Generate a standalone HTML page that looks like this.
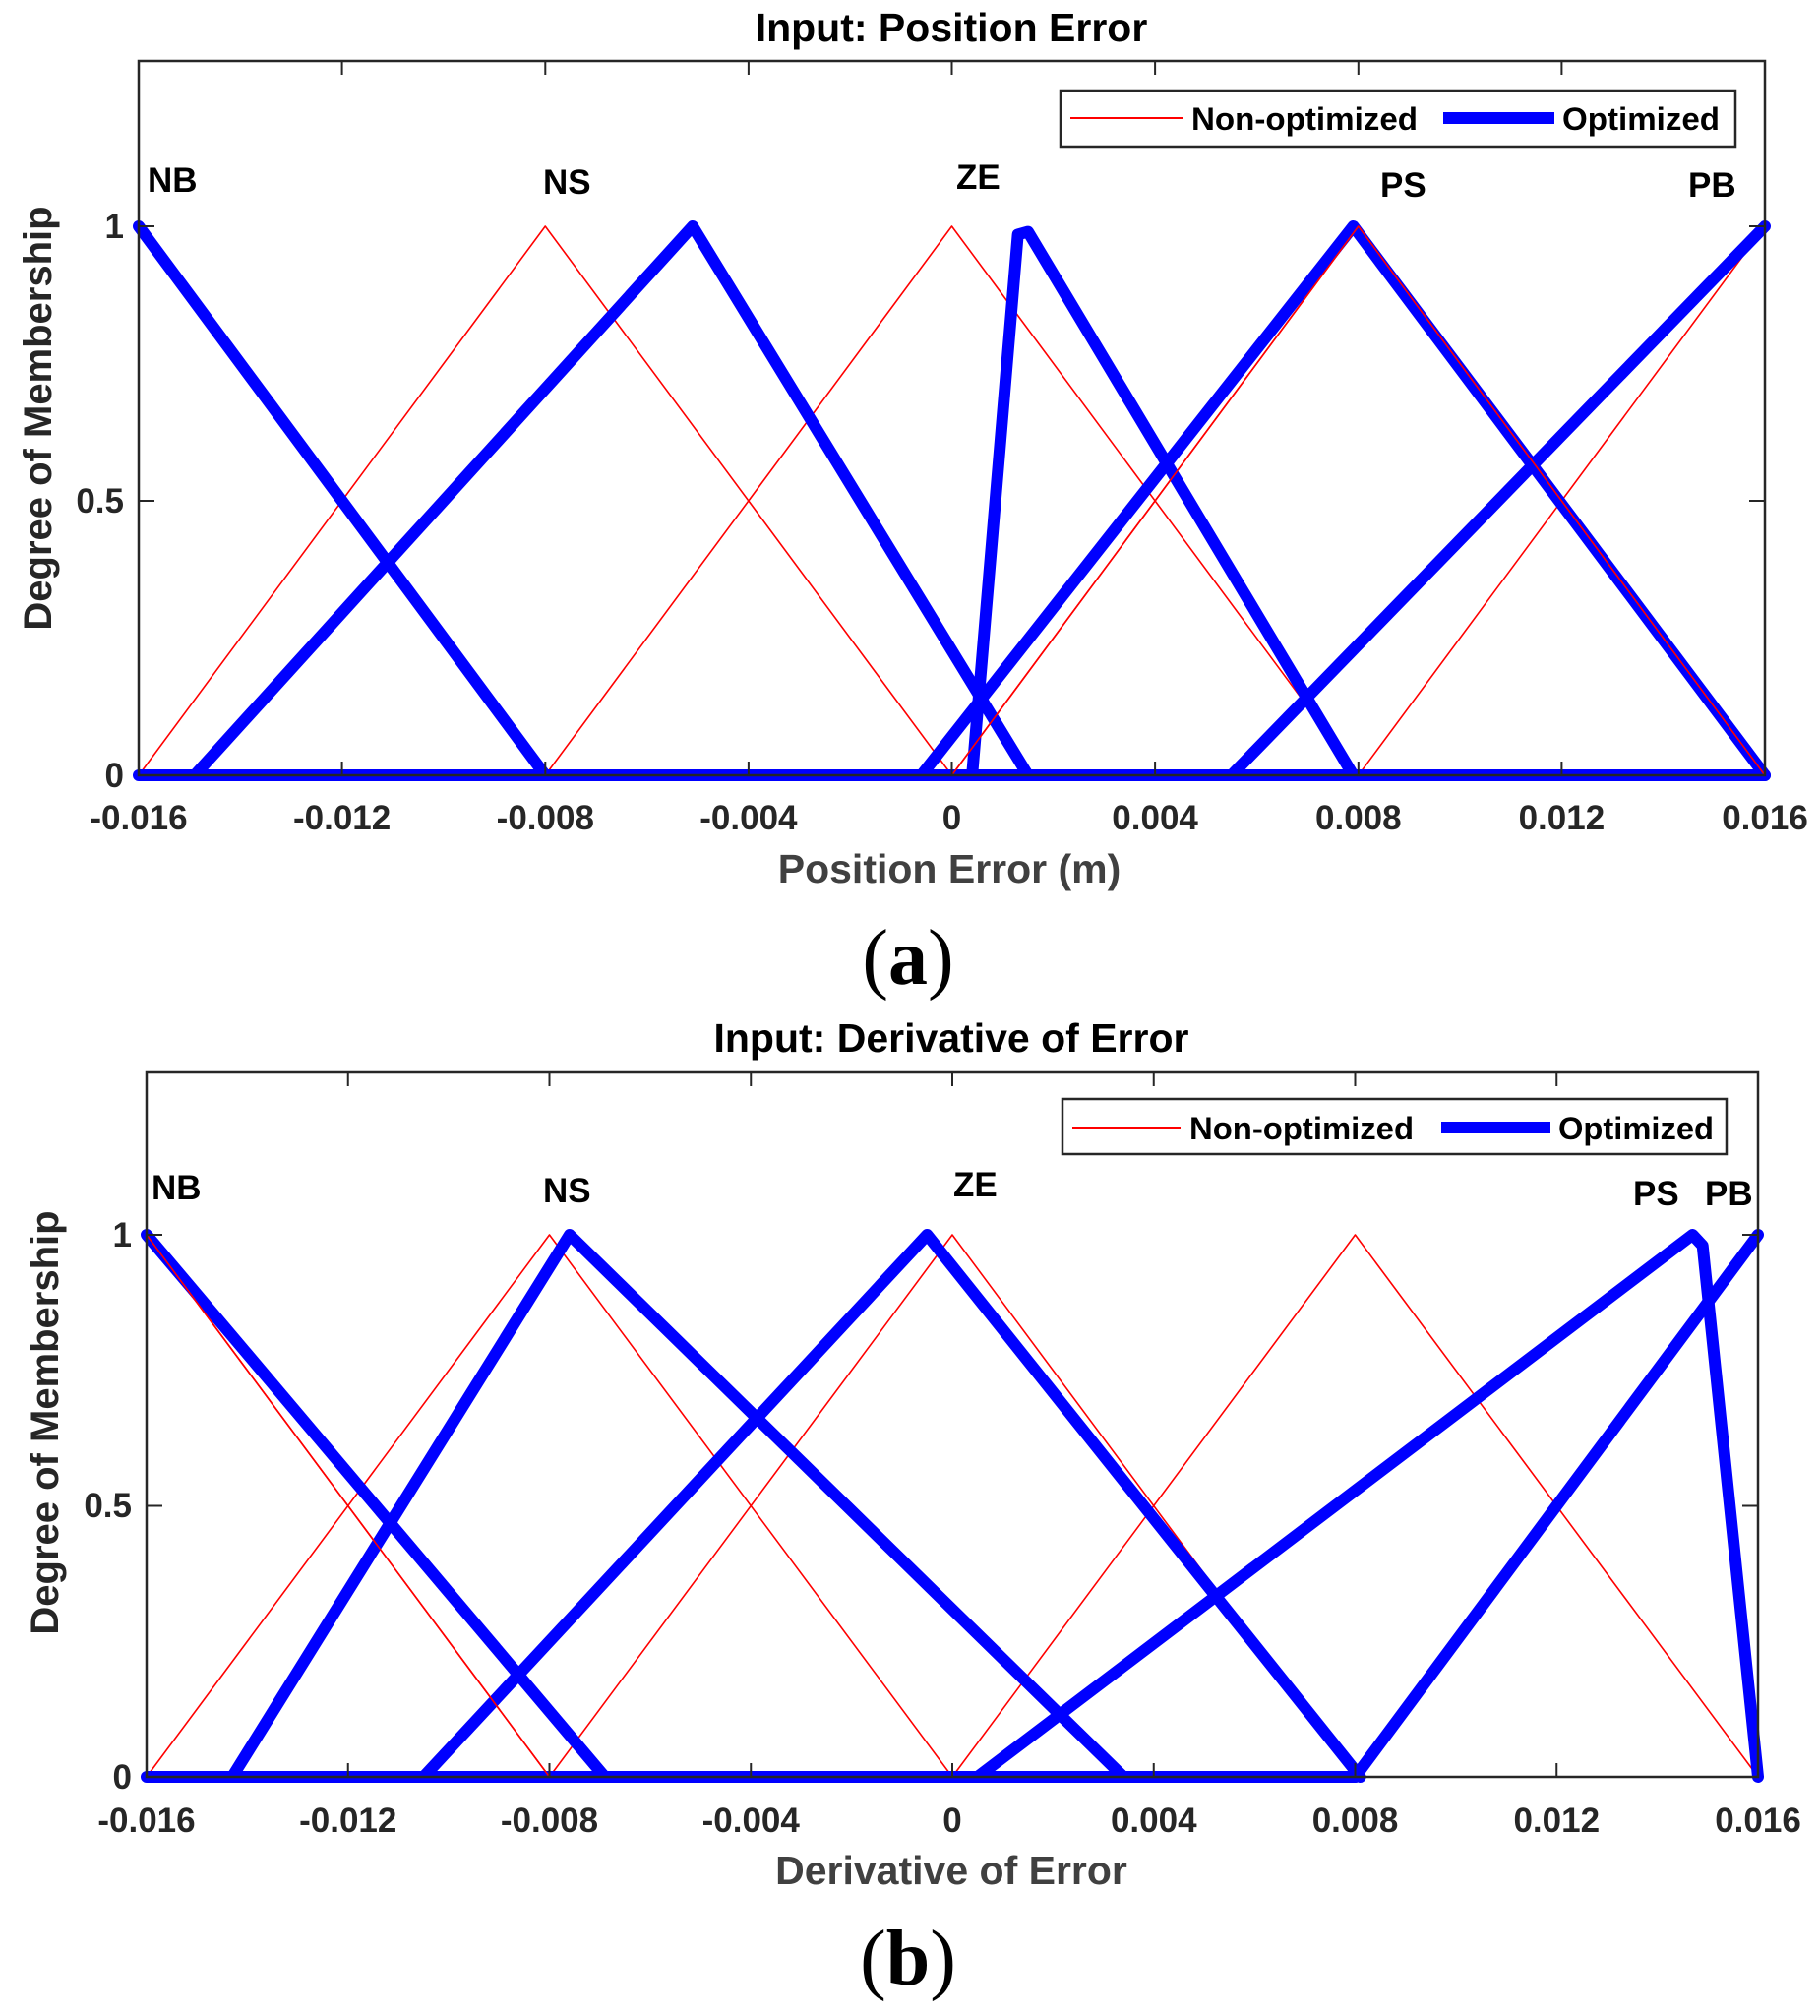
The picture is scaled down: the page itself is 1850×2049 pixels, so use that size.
<!DOCTYPE html>
<html><head><meta charset="utf-8"><style>
html,body{margin:0;padding:0;background:#fff;}
svg{display:block;}
text{font-family:"Liberation Sans",Arial,sans-serif;}
</style></head><body>
<svg width="1850" height="2049" viewBox="0 0 1850 2049" xmlns="http://www.w3.org/2000/svg">
<rect width="1850" height="2049" fill="#fff"/>

<!-- ===== Plot (a) ===== -->
<text x="967" y="42" font-size="41" font-weight="bold" text-anchor="middle" fill="#000">Input: Position Error</text>
<g transform="translate(141,788) scale(51656,-558)" fill="none" stroke-linejoin="round" stroke-linecap="round">
  <g stroke="#ff0000" stroke-width="1.6">
    <polyline vector-effect="non-scaling-stroke" points="0,1 0.008,0"/>
    <polyline vector-effect="non-scaling-stroke" points="0,0 0.008,1 0.016,0"/>
    <polyline vector-effect="non-scaling-stroke" points="0.008,0 0.016,1 0.024,0"/>
    <polyline vector-effect="non-scaling-stroke" points="0.016,0 0.024,1 0.032,0"/>
    <polyline vector-effect="non-scaling-stroke" points="0.024,0 0.032,1"/>
  </g>
  <g stroke="#0000ff" stroke-width="12">
    <polyline vector-effect="non-scaling-stroke" points="0,0 0.032,0"/>
    <polyline vector-effect="non-scaling-stroke" points="0,1 0.008,0"/>
    <polyline vector-effect="non-scaling-stroke" points="0.0011,0 0.0109,1 0.0175,0"/>
    <polyline vector-effect="non-scaling-stroke" points="0.0164,0 0.0173,0.985 0.0175,0.99 0.0239,0"/>
    <polyline vector-effect="non-scaling-stroke" points="0.0154,0 0.0239,1 0.032,0"/>
    <polyline vector-effect="non-scaling-stroke" points="0.0215,0 0.032,1"/>
  </g>
  <polyline vector-effect="non-scaling-stroke" stroke="#ff0000" stroke-width="2" points="0,0 0.032,0"/>
  <polyline vector-effect="non-scaling-stroke" stroke="#ff0000" stroke-width="1.6" points="0.016,0 0.024,1 0.032,0"/>
</g>
<rect x="141" y="62" width="1653" height="726" fill="none" stroke="#262626" stroke-width="2.5"/>
<g stroke="#262626" stroke-width="2">
  <path d="M347.6,788v-14M554.3,788v-14M760.9,788v-14M967.5,788v-14M1174.1,788v-14M1380.8,788v-14M1587.4,788v-14"/>
  <path d="M347.6,62v14M554.3,62v14M760.9,62v14M967.5,62v14M1174.1,62v14M1380.8,62v14M1587.4,62v14"/>
  <path d="M141,509h16M141,230h16M1794,509h-16M1794,230h-16"/>
</g>
<g font-size="35" font-weight="bold" fill="#262626" text-anchor="middle">
  <text x="141" y="843">-0.016</text><text x="347.6" y="843">-0.012</text><text x="554.3" y="843">-0.008</text>
  <text x="760.9" y="843">-0.004</text><text x="967.5" y="843">0</text><text x="1174.1" y="843">0.004</text>
  <text x="1380.8" y="843">0.008</text><text x="1587.4" y="843">0.012</text><text x="1794" y="843">0.016</text>
</g>
<g font-size="35" font-weight="bold" fill="#262626" text-anchor="end">
  <text x="126" y="800">0</text><text x="126" y="521">0.5</text><text x="126" y="242">1</text>
</g>
<text x="965" y="897" font-size="41" font-weight="bold" fill="#404040" text-anchor="middle">Position Error (m)</text>
<text transform="translate(52,425) rotate(-90)" font-size="40" font-weight="bold" fill="#262626" text-anchor="middle">Degree of Membership</text>
<g font-size="35" font-weight="bold" fill="#000">
  <text x="150" y="195">NB</text><text x="552" y="197">NS</text><text x="972" y="192">ZE</text>
  <text x="1403" y="200">PS</text><text x="1716" y="200">PB</text>
</g>
<rect x="1078" y="92" width="686" height="57" fill="#fff" stroke="#262626" stroke-width="2.5"/>
<line x1="1088" y1="120" x2="1202" y2="120" stroke="#ff0000" stroke-width="2"/>
<text x="1211" y="132" font-size="32" font-weight="bold" textLength="230" lengthAdjust="spacingAndGlyphs">Non-optimized</text>
<line x1="1467" y1="120" x2="1580" y2="120" stroke="#0000ff" stroke-width="12"/>
<text x="1588" y="132" font-size="32" font-weight="bold" textLength="160" lengthAdjust="spacingAndGlyphs">Optimized</text>
<text x="923" y="1000" font-size="80" text-anchor="middle" style="font-family:'Liberation Serif',serif">(<tspan font-weight="bold">a</tspan>)</text>

<!-- ===== Plot (b) ===== -->
<text x="967" y="1069" font-size="41" font-weight="bold" text-anchor="middle" fill="#000">Input: Derivative of Error</text>
<g transform="translate(149,1806) scale(51187.5,-551)" fill="none" stroke-linejoin="round" stroke-linecap="round">
  <g stroke="#ff0000" stroke-width="1.6">
    <polyline vector-effect="non-scaling-stroke" points="0,1 0.008,0"/>
    <polyline vector-effect="non-scaling-stroke" points="0,0 0.008,1 0.016,0"/>
    <polyline vector-effect="non-scaling-stroke" points="0.008,0 0.016,1 0.024,0"/>
    <polyline vector-effect="non-scaling-stroke" points="0.016,0 0.024,1 0.032,0"/>
  </g>
  <g stroke="#0000ff" stroke-width="12">
    <polyline vector-effect="non-scaling-stroke" points="0,0 0.024,0"/>
    <polyline vector-effect="non-scaling-stroke" points="0,1 0.0091,0"/>
    <polyline vector-effect="non-scaling-stroke" points="0.0017,0 0.0084,1 0.0194,0"/>
    <polyline vector-effect="non-scaling-stroke" points="0.0055,0 0.0155,1 0.0241,0"/>
    <polyline vector-effect="non-scaling-stroke" points="0.0165,0 0.0307,1 0.0309,0.98 0.032,0"/>
    <polyline vector-effect="non-scaling-stroke" points="0.024,0 0.032,1"/>
  </g>
  <polyline vector-effect="non-scaling-stroke" stroke="#ff0000" stroke-width="2" points="0.024,0 0.032,0"/>
  <polyline vector-effect="non-scaling-stroke" stroke="#ff0000" stroke-width="1.6" points="0,1 0.008,0"/>
</g>
<rect x="149" y="1090" width="1638" height="716" fill="none" stroke="#262626" stroke-width="2.5"/>
<g stroke="#262626" stroke-width="2">
  <path d="M353.75,1806v-14M558.5,1806v-14M763.25,1806v-14M968,1806v-14M1172.75,1806v-14M1377.5,1806v-14M1582.25,1806v-14"/>
  <path d="M353.75,1090v14M558.5,1090v14M763.25,1090v14M968,1090v14M1172.75,1090v14M1377.5,1090v14M1582.25,1090v14"/>
  <path d="M149,1530.5h16M149,1255h16M1787,1530.5h-16M1787,1255h-16"/>
</g>
<g font-size="35" font-weight="bold" fill="#262626" text-anchor="middle">
  <text x="149" y="1862">-0.016</text><text x="353.75" y="1862">-0.012</text><text x="558.5" y="1862">-0.008</text>
  <text x="763.25" y="1862">-0.004</text><text x="968" y="1862">0</text><text x="1172.75" y="1862">0.004</text>
  <text x="1377.5" y="1862">0.008</text><text x="1582.25" y="1862">0.012</text><text x="1787" y="1862">0.016</text>
</g>
<g font-size="35" font-weight="bold" fill="#262626" text-anchor="end">
  <text x="134" y="1818">0</text><text x="134" y="1542">0.5</text><text x="134" y="1267">1</text>
</g>
<text x="967" y="1915" font-size="41" font-weight="bold" fill="#404040" text-anchor="middle">Derivative of Error</text>
<text transform="translate(59,1446) rotate(-90)" font-size="40" font-weight="bold" fill="#262626" text-anchor="middle">Degree of Membership</text>
<g font-size="35" font-weight="bold" fill="#000">
  <text x="154" y="1219">NB</text><text x="552" y="1222">NS</text><text x="969" y="1216">ZE</text>
  <text x="1660" y="1225">PS</text><text x="1733" y="1225">PB</text>
</g>
<rect x="1080" y="1117" width="675" height="56" fill="#fff" stroke="#262626" stroke-width="2.5"/>
<line x1="1090" y1="1146" x2="1200" y2="1146" stroke="#ff0000" stroke-width="2"/>
<text x="1209" y="1158" font-size="32" font-weight="bold" textLength="228" lengthAdjust="spacingAndGlyphs">Non-optimized</text>
<line x1="1465" y1="1146" x2="1576" y2="1146" stroke="#0000ff" stroke-width="12"/>
<text x="1584" y="1158" font-size="32" font-weight="bold" textLength="158" lengthAdjust="spacingAndGlyphs">Optimized</text>
<text x="923" y="2017" font-size="80" text-anchor="middle" style="font-family:'Liberation Serif',serif">(<tspan font-weight="bold">b</tspan>)</text>
</svg>
</body></html>
